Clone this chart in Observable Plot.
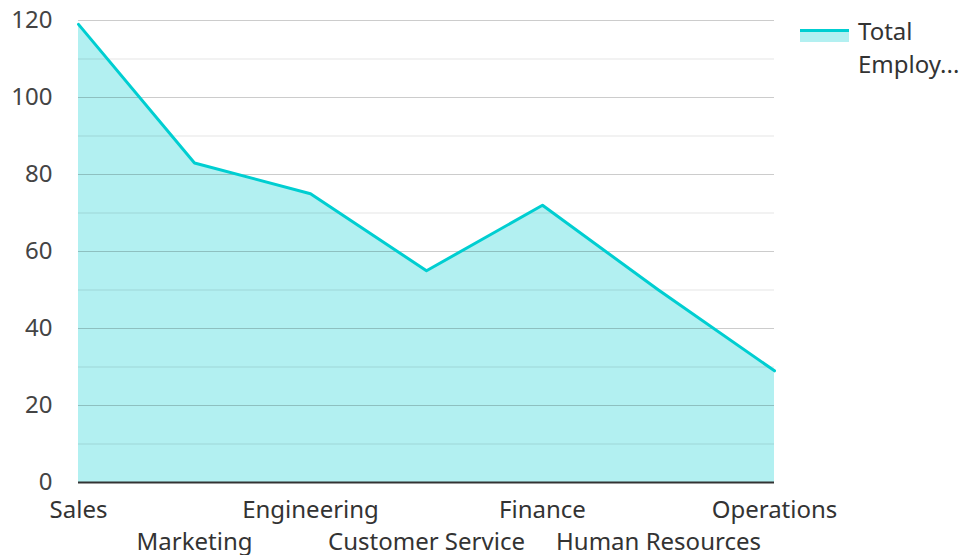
<!DOCTYPE html>
<html>
<head>
<meta charset="utf-8">
<script src="https://cdn.jsdelivr.net/npm/d3@7"></script>
<script src="https://cdn.jsdelivr.net/npm/@observablehq/plot@0.6"></script>
<style>
  html, body { margin: 0; padding: 0; background: #fff; }
  #wrap { position: relative; width: 963px; height: 555px; font-family: "Noto Sans", sans-serif; }
  #legend { position: absolute; left: 800px; top: 14px; display: flex; align-items: flex-start; }
  #legend .sw { width: 49px; height: 13px; margin-top: 15px; border-top: 3px solid #00ced1; background: #b3f0f1; box-sizing: border-box; }
  #legend .lbl { margin-left: 9px; font-size: 24px; line-height: 33px; color: #333; }
</style>
</head>
<body>
<div id="wrap"><div id="legend"><div class="sw"></div><div class="lbl">Total<br>Employ...</div></div></div>
<script>
const categories = ["Sales", "Marketing", "Engineering", "Customer Service", "Finance", "Human Resources", "Operations"];
const totalEmployees = [119, 83, 75, 55, 72, 50, 29];
const majorTicks = [0, 20, 40, 60, 80, 100, 120];
const minorTicks = [10, 30, 50, 70, 90, 110];

const data = categories.map((c, i) => ({category: c, value: totalEmployees[i]}));
const rowOne = categories.filter((_, i) => i % 2 === 0);
const rowTwo = categories.filter((_, i) => i % 2 === 1);

const chart = Plot.plot({
  width: 963,
  height: 555,
  marginLeft: 78,
  marginRight: 189,
  marginTop: 20,
  marginBottom: 73,
  style: {fontFamily: "'Noto Sans', sans-serif", fontSize: "24px", color: "#333", background: "transparent"},
  x: {type: "point", domain: categories, padding: 0},
  y: {domain: [0, 120]},
  marks: [
    Plot.areaY(data, {x: "category", y: "value", fill: "#00ced1", fillOpacity: 0.3}),
    Plot.ruleY(minorTicks, {stroke: "#000", strokeOpacity: 0.1, strokeWidth: 1}),
    Plot.ruleY(majorTicks.filter(d => d > 0), {stroke: "#000", strokeOpacity: 0.2, strokeWidth: 1}),
    Plot.lineY(data, {x: "category", y: "value", stroke: "#00ced1", strokeWidth: 3}),
    Plot.ruleY([0], {stroke: "#333", strokeWidth: 2}),
    Plot.axisY(majorTicks, {tickSize: 0, tickPadding: 26, label: null, fontSize: 24, fill: "#444"}),
    Plot.axisX(rowOne, {tickSize: 0, tickPadding: 18, label: null, fontSize: 24, fill: "#333"}),
    Plot.axisX(rowTwo, {tickSize: 0, tickPadding: 50, label: null, fontSize: 24, fill: "#333"})
  ]
});
chart.style.position = "absolute";
chart.style.left = "0px";
chart.style.top = "0px";
document.getElementById("wrap").prepend(chart);
</script>
</body>
</html>
